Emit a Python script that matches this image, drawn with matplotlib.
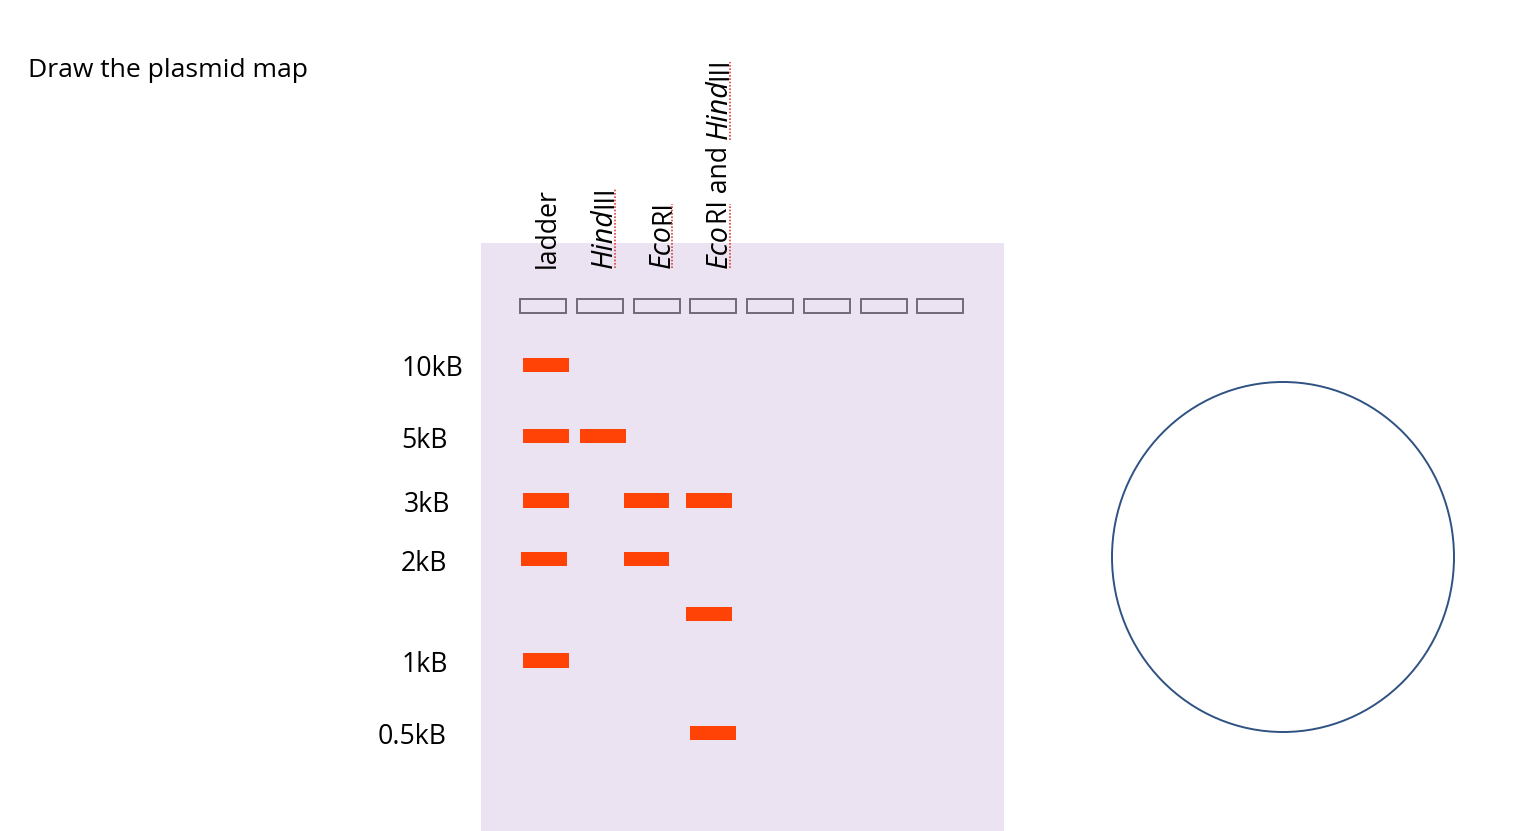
import matplotlib
matplotlib.use("Agg")
import matplotlib.pyplot as plt
from matplotlib.patches import Rectangle, Ellipse

FONT = "Open Sans"
FS = 19.2
FS_ITALIC = 20.6

# Gel lanes / wells (left edge px in picture scale)
well_left = [520, 577, 634, 690, 747, 804, 861, 917]
well_width = 46
well_top, well_height = 299, 14

# Bands: (left, top, width, height)
band_left = [523, 523, 580, 523, 624, 686, 521, 624, 686, 523, 690]
band_top = [358, 429, 429, 493, 493, 493, 552, 552, 607, 653, 726]
band_width = [46, 46, 46, 46, 45, 46, 46, 45, 46, 46, 46]
band_height = [14, 14, 14, 15, 15, 15, 14, 14, 14, 15, 14]

# Size labels
size_labels = ["10kB", "5kB", "3kB", "2kB", "1kB", "0.5kB"]
size_x = [402, 401, 404, 401, 402, 378]
size_y = [376, 448, 512, 571, 672, 744]

# Lane labels, as (text, italic) runs
lane_runs = [
    [("ladder", False)],
    [("Hind", True), ("III", False)],
    [("Eco", True), ("RI", False)],
    [("Eco", True), ("RI and ", False), ("Hind", True), ("III", False)],
]
lane_x = [555, 612, 670, 727]
lane_y0 = 268

# Spell-check underlines: (x, y start, y end)
squiggles = [(614.5, 268, 189), (672, 268, 204), (729.5, 268, 204), (729.5, 140, 62)]

fig = plt.figure(figsize=(15.18, 8.31), dpi=100, facecolor="white")
ax = fig.add_axes([0, 0, 1, 1])
ax.set_xlim(0, 1518)
ax.set_ylim(831, 0)
ax.axis("off")

ax.add_patch(Rectangle((481, 243), 523, 588, fc="#EBE3F2", ec="none", zorder=1))

for x in well_left:
    ax.add_patch(Rectangle((x, well_top), well_width, well_height, fc="none",
                           ec="#6F6A75", lw=1.4, zorder=2))

for l, t, w, h in zip(band_left, band_top, band_width, band_height):
    ax.add_patch(Rectangle((l, t), w, h, fc="#FF4306", ec="none", zorder=3))

for s, x, y in zip(size_labels, size_x, size_y):
    ax.text(x, y, s, fontfamily=FONT, fontsize=FS, color="black", va="baseline", ha="left", zorder=4)

ax.text(28, 77, "Draw the plasmid map", fontfamily=FONT, fontsize=19.05, color="black",
        va="baseline", ha="left", zorder=4)

fig.canvas.draw()
r = fig.canvas.get_renderer()
for runs, x in zip(lane_runs, lane_x):
    y = lane_y0
    for s, it in runs:
        size = FS_ITALIC if it else FS
        t = ax.text(x, y, s, fontfamily=FONT, fontsize=size, style="italic" if it else "normal",
                    rotation=90, rotation_mode="anchor", ha="left", va="baseline", color="black", zorder=4)
        w = ax.text(0, 0, s.replace(" ", "\u00a0"), fontfamily=FONT, fontsize=size,
                    style="italic" if it else "normal")
        y -= w.get_window_extent(r).width
        w.remove()

for x, y0, y1 in squiggles:
    ax.plot([x, x], [y0, y1], color="#E0403A", lw=1.2, ls=(0, (1, 1)), zorder=5)

ax.add_patch(Ellipse((1283, 557), 342, 350, fc="white", ec="#2F5283", lw=1.4, zorder=2))

fig.savefig("out.png", dpi=100, facecolor="white")
